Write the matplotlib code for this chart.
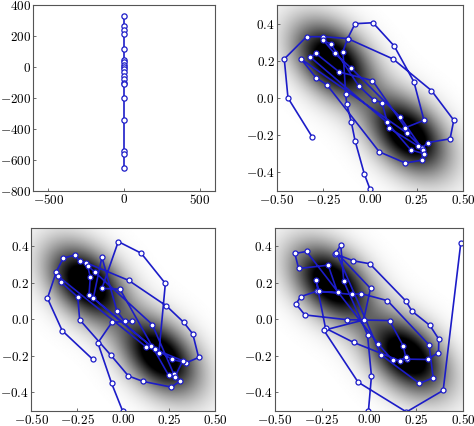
import numpy as np
import matplotlib
matplotlib.use('Agg')
import matplotlib.pyplot as plt
from matplotlib.ticker import FuncFormatter

plt.rcParams['font.family'] = 'serif'
plt.rcParams['font.serif'] = ['cmr10', 'DejaVu Serif']
plt.rcParams['mathtext.fontset'] = 'cm'

# panel 1: all points on x = 0
p1_x = [0] * 20
p1_y = [330, 265, 240, 215, 118, 45, 30, 15, 0, -15, -30, -60, -80, -100, -110, -200, -340, -545, -560, -650]

# panel 2 path (x, y)
p2_x = [-0.31, -0.44, -0.46, -0.34, -0.25, -0.12, 0.124, 0.33, 0.45, 0.43, 0.31, 0.28, 0.20,
        -0.37, -0.29, -0.23, 0.05, 0.19, 0.28, 0.285, 0.16, -0.10, -0.19, -0.25, -0.21,
        -0.06, 0.02, 0.065, 0.10, 0.26, 0.29, 0.22, 0.09, -0.32, -0.29, -0.165, 0.013,
        0.19, 0.29, 0.236, 0.13, 0.016, -0.08, -0.12, -0.145, -0.13, -0.125, -0.10, -0.08,
        -0.03, 0.0]
p2_y = [-0.21, 0.00, 0.21, 0.33, 0.33, 0.32, 0.21, 0.04, -0.12, -0.22, -0.24, -0.27, -0.19,
        0.21, 0.11, 0.07, -0.29, -0.35, -0.335, -0.28, -0.10, 0.16, 0.24, 0.31, 0.29,
        0.065, -0.01, -0.025, -0.16, -0.26, -0.30, -0.28, -0.13, 0.22, 0.24, 0.14, 0.094,
        -0.16, -0.12, 0.087, 0.28, 0.405, 0.40, 0.32, 0.25, 0.02, -0.03, -0.13, -0.23,
        -0.41, -0.49]

# panel 3 path
p3_x = [-0.165, -0.332, -0.412, -0.364, -0.326, -0.263, -0.237, -0.201, 0.029, 0.235, 0.328,
        0.378, 0.41, 0.342, 0.265, 0.151, 0.124, -0.357, -0.34, -0.247, -0.237, -0.066,
        0.028, 0.108, 0.262, 0.306, 0.274, 0.158, -0.154, -0.194, -0.179, -0.186, 0.172,
        0.324, 0.279, 0.247, -0.018, -0.116, -0.027, 0.097, 0.229, 0.194, -0.163, -0.116,
        -0.034, 0.007, 0.047, -0.061, -0.138, -0.063, -0.004]
p3_y = [-0.22, -0.062, 0.115, 0.26, 0.335, 0.351, 0.318, 0.309, 0.213, 0.073, -0.016,
        -0.08, -0.209, -0.238, -0.22, -0.144, -0.151, 0.238, 0.204, 0.122, -0.002, -0.198,
        -0.31, -0.34, -0.371, -0.34, -0.298, -0.029, 0.258, 0.293, 0.231, 0.135, -0.165,
        -0.227, -0.318, -0.307, 0.165, 0.169, 0.425, 0.362, 0.196, -0.182, 0.115, 0.34,
        0.044, -0.011, -0.011, -0.016, -0.129, -0.351, -0.50]

# panel 4 path
p4_x = [-0.003, 0.013, -0.008, -0.134, -0.15, -0.18, -0.084, 0.004, 0.194, 0.229, 0.323,
        0.371, 0.369, 0.311, 0.203, 0.125, 0.049, -0.332, -0.394, -0.374, -0.217, -0.167,
        -0.279, -0.363, -0.388, -0.341, -0.119, 0.109, 0.181, 0.196, 0.164, -0.081, -0.231,
        -0.282, -0.265, -0.093, -0.04, 0.098, 0.319, 0.341, 0.268, 0.064, -0.173, 0.008,
        -0.029, -0.24, -0.058, 0.199, 0.394, 0.488]
p4_y = [-0.50, -0.311, -0.084, 0.207, 0.405, 0.358, 0.32, 0.304, 0.102, 0.044, -0.033,
        -0.109, -0.182, -0.22, -0.218, -0.224, -0.135, 0.371, 0.36, 0.278, 0.296, 0.147,
        0.153, 0.124, 0.084, 0.024, -0.002, -0.007, -0.144, -0.209, -0.227, -0.127, -0.049,
        0.215, 0.153, 0.136, 0.14, 0.102, -0.14, -0.32, -0.351, -0.195, 0.365, 0.169,
        -0.004, -0.06, -0.344, -0.507, -0.389, 0.42]

# background mixture: two components
means = [(-0.2, 0.2), (0.2, -0.2)]
sd_major = 0.17
sd_minor = 0.11

def mixture(X, Y):
    Z = np.zeros_like(X)
    u = np.array([1, -1]) / np.sqrt(2)
    v = np.array([1, 1]) / np.sqrt(2)
    for mx, my in means:
        dx, dy = X - mx, Y - my
        a = dx * u[0] + dy * u[1]
        b = dx * v[0] + dy * v[1]
        Z += np.exp(-0.5 * (a / sd_major) ** 2 - 0.5 * (b / sd_minor) ** 2)
    return Z

g = np.linspace(-0.5, 0.5, 300)
X, Y = np.meshgrid(g, g)
Z = mixture(X, Y)

fig = plt.figure(figsize=(4.74, 4.26), dpi=100)
boxes = [[0.070, 0.552, 0.384, 0.436],
         [0.584, 0.552, 0.393, 0.436],
         [0.066, 0.036, 0.388, 0.429],
         [0.580, 0.036, 0.397, 0.429]]
line_col = '#1c1cc8'

def mt(f):
    return FuncFormatter(lambda v, p: '$' + (f % v) + '$')

def style(ax):
    for s in ax.spines.values():
        s.set_color('#555555')
        s.set_linewidth(0.8)
    ax.tick_params(direction='in', length=2.5, width=0.6, color='#555555', labelsize=9.5, pad=1.5)

ax = fig.add_axes(boxes[0])
ax.plot(p1_x, p1_y, '-o', color=line_col, lw=1.2, ms=3.8, mfc='white', mec=line_col, mew=0.9)
ax.set_xlim(-600, 600)
ax.set_ylim(-800, 400)
ax.set_xticks([-500, 0, 500])
ax.set_yticks([400, 200, 0, -200, -400, -600, -800])
ax.xaxis.set_major_formatter(mt('%d'))
ax.yaxis.set_major_formatter(mt('%d'))
style(ax)

for box, px, py in zip(boxes[1:], [p2_x, p3_x, p4_x], [p2_y, p3_y, p4_y]):
    ax = fig.add_axes(box)
    ax.imshow(Z, extent=(-0.5, 0.5, -0.5, 0.5), origin='lower', cmap='gray_r',
              vmin=0, vmax=Z.max() * 0.8, aspect='auto', interpolation='bilinear')
    ax.plot(px, py, '-o', color=line_col, lw=1.2, ms=3.6, mfc='white', mec=line_col, mew=0.9)
    ax.set_xlim(-0.5, 0.5)
    ax.set_ylim(-0.5, 0.5)
    ax.set_xticks([-0.5, -0.25, 0, 0.25, 0.5])
    ax.set_yticks([-0.4, -0.2, 0, 0.2, 0.4])
    ax.xaxis.set_major_formatter(mt('%.2f'))
    ax.yaxis.set_major_formatter(mt('%.1f'))
    style(ax)

fig.savefig('out.png', dpi=100)
